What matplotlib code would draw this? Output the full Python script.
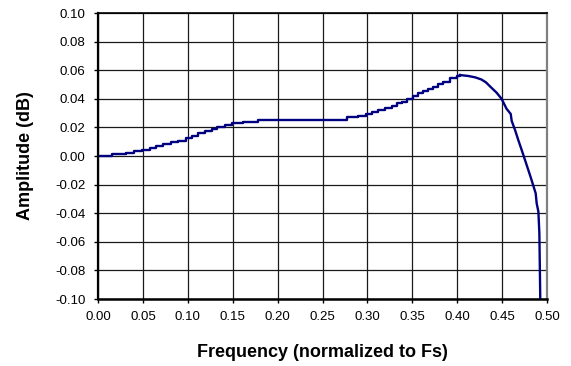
import numpy as np
import matplotlib.pyplot as plt
from matplotlib.ticker import MultipleLocator, FuncFormatter

plt.rcParams['font.family'] = ['Liberation Sans', 'DejaVu Sans']
plt.rcParams['axes.unicode_minus'] = False

# Passband ripple: quantized response, drawn as a staircase
step_freq = [0.0000, 0.0152, 0.0308, 0.0405, 0.0486, 0.0580, 0.0650, 0.0728,
             0.0813, 0.0887, 0.0977, 0.1043, 0.1110, 0.1190, 0.1266, 0.1320,
             0.1414, 0.1489, 0.1618, 0.1785, 0.2769, 0.2899, 0.2984, 0.3048,
             0.3121, 0.3196, 0.3270, 0.3326, 0.3382, 0.3444, 0.3511, 0.3567,
             0.3622, 0.3678, 0.3734, 0.3789, 0.3845, 0.3920, 0.3994, 0.4030]
step_amp = [0.0000, 0.0012, 0.0023, 0.0033, 0.0044, 0.0056, 0.0070, 0.0082,
            0.0096, 0.0107, 0.0124, 0.0142, 0.0159, 0.0177, 0.0189, 0.0205,
            0.0217, 0.0229, 0.0238, 0.0253, 0.0270, 0.0282, 0.0294, 0.0306,
            0.0322, 0.0333, 0.0350, 0.0368, 0.0380, 0.0397, 0.0420, 0.0438,
            0.0455, 0.0470, 0.0485, 0.0503, 0.0520, 0.0543, 0.0560, 0.0566]

# Roll-off towards Fs/2
roll_freq = [0.4030, 0.4120, 0.4200, 0.4270, 0.4320, 0.4380, 0.4440, 0.4494,
             0.4550, 0.4596, 0.4607, 0.4644, 0.4680, 0.4718, 0.4755, 0.4792,
             0.4822, 0.4874, 0.4885, 0.4904, 0.4915, 0.4925]
roll_amp = [0.0566, 0.0560, 0.0550, 0.0535, 0.0515, 0.0478, 0.0442, 0.0400,
            0.0330, 0.0294, 0.0245, 0.0182, 0.0112, 0.0042, -0.0028, -0.0098,
            -0.0156, -0.0261, -0.0331, -0.0389, -0.0540, -0.1000]

line_color = '#000080'


def two_dp(v, pos):
    # avoid "-0.00" from floating point noise
    v = round(v, 4)
    if v == 0:
        v = 0.0
    return f'{v:.2f}'


fig = plt.figure(figsize=(5.71, 3.66), dpi=100)
ax = fig.add_axes([98 / 571, 1 - 299 / 366, 449 / 571, 286 / 366])

ax.plot(step_freq, step_amp, color=line_color, lw=1.7, drawstyle='steps-post')
ax.plot(roll_freq, roll_amp, color=line_color, lw=1.7)

ax.set_xlim(0, 0.5)
ax.set_ylim(-0.1, 0.1)
ax.xaxis.set_major_locator(MultipleLocator(0.05))
ax.yaxis.set_major_locator(MultipleLocator(0.02))
ax.xaxis.set_major_formatter(FuncFormatter(two_dp))
ax.yaxis.set_major_formatter(FuncFormatter(two_dp))

ax.grid(True, color='#1a1a1a', lw=0.9)
ax.set_axisbelow(True)
ax.tick_params(direction='out', length=3, width=1, labelsize=9.5, pad=6)

for side in ['left', 'bottom', 'top']:
    ax.spines[side].set_color('black')
ax.spines['left'].set_linewidth(1.6)
ax.spines['bottom'].set_linewidth(1.8)
ax.spines['top'].set_linewidth(1.2)
ax.spines['right'].set_color('#808080')
ax.spines['right'].set_linewidth(1.6)

ax.set_xlabel('Frequency (normalized to Fs)', fontsize=13, fontweight='bold',
              labelpad=15)
ax.set_ylabel('Amplitude (dB)', fontsize=13, fontweight='bold', labelpad=15)

fig.savefig('out.png', dpi=100)
